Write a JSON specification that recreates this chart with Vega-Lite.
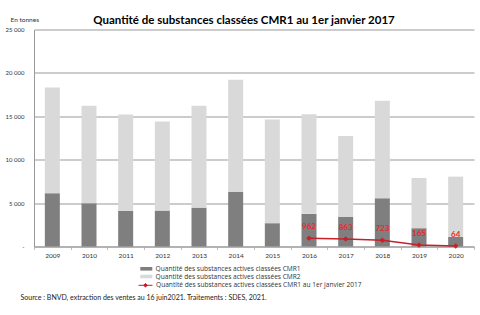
{
  "$schema": "https://vega.github.io/schema/vega-lite/v6.json",
  "width": 440,
  "height": 217,
  "autosize": "none",
  "padding": {"left": 34, "top": 29.5, "right": 6, "bottom": 68.5},
  "background": "white",
  "config": {"view": {"stroke": null}, "font": "Lato"},
  "title": {
    "text": "Quantité de substances classées CMR1 au 1er janvier 2017",
    "fontSize": 11.5,
    "fontWeight": "bold",
    "color": "#000000",
    "anchor": "middle",
    "dx": -10,
    "dy": 14,
    "offset": 4
  },
  "datasets": {
    "barres": [
      {"annee": "2009", "serie": "Quantité des substances actives classées CMR1", "valeur": 6140},
      {"annee": "2009", "serie": "Quantité des substances actives classées CMR2", "valeur": 12180},
      {"annee": "2010", "serie": "Quantité des substances actives classées CMR1", "valeur": 4990},
      {"annee": "2010", "serie": "Quantité des substances actives classées CMR2", "valeur": 11220},
      {"annee": "2011", "serie": "Quantité des substances actives classées CMR1", "valeur": 4100},
      {"annee": "2011", "serie": "Quantité des substances actives classées CMR2", "valeur": 11120},
      {"annee": "2012", "serie": "Quantité des substances actives classées CMR1", "valeur": 4140},
      {"annee": "2012", "serie": "Quantité des substances actives classées CMR2", "valeur": 10270},
      {"annee": "2013", "serie": "Quantité des substances actives classées CMR1", "valeur": 4480},
      {"annee": "2013", "serie": "Quantité des substances actives classées CMR2", "valeur": 11730},
      {"annee": "2014", "serie": "Quantité des substances actives classées CMR1", "valeur": 6320},
      {"annee": "2014", "serie": "Quantité des substances actives classées CMR2", "valeur": 12880},
      {"annee": "2015", "serie": "Quantité des substances actives classées CMR1", "valeur": 2690},
      {"annee": "2015", "serie": "Quantité des substances actives classées CMR2", "valeur": 11950},
      {"annee": "2016", "serie": "Quantité des substances actives classées CMR1", "valeur": 3760},
      {"annee": "2016", "serie": "Quantité des substances actives classées CMR2", "valeur": 11490},
      {"annee": "2017", "serie": "Quantité des substances actives classées CMR1", "valeur": 3410},
      {"annee": "2017", "serie": "Quantité des substances actives classées CMR2", "valeur": 9310},
      {"annee": "2018", "serie": "Quantité des substances actives classées CMR1", "valeur": 5560},
      {"annee": "2018", "serie": "Quantité des substances actives classées CMR2", "valeur": 11220},
      {"annee": "2019", "serie": "Quantité des substances actives classées CMR1", "valeur": 2110},
      {"annee": "2019", "serie": "Quantité des substances actives classées CMR2", "valeur": 5790},
      {"annee": "2020", "serie": "Quantité des substances actives classées CMR1", "valeur": 1110},
      {"annee": "2020", "serie": "Quantité des substances actives classées CMR2", "valeur": 6940}
    ],
    "ligne": [
      {"annee": "2016", "serie": "Quantité des substances actives classées CMR1 au 1er janvier 2017", "valeur": 962},
      {"annee": "2017", "serie": "Quantité des substances actives classées CMR1 au 1er janvier 2017", "valeur": 863},
      {"annee": "2018", "serie": "Quantité des substances actives classées CMR1 au 1er janvier 2017", "valeur": 723},
      {"annee": "2019", "serie": "Quantité des substances actives classées CMR1 au 1er janvier 2017", "valeur": 165},
      {"annee": "2020", "serie": "Quantité des substances actives classées CMR1 au 1er janvier 2017", "valeur": 64}
    ]
  },
  "encoding": {
    "x": {
      "field": "annee",
      "type": "ordinal",
      "scale": {"paddingInner": 0, "paddingOuter": 0},
      "axis": {
        "title": "Source : BNVD, extraction des ventes au 16 juin2021. Traitements : SDES, 2021.",
        "titleX": -14,
        "titleY": 51,
        "titleAlign": "left",
        "titleBaseline": "middle",
        "titleFontSize": 7,
        "titleFontWeight": "normal",
        "titleColor": "#222222",
        "labelAngle": 0,
        "labelFontSize": 6.5,
        "labelColor": "#333333",
        "labelPadding": 3,
        "domainColor": "#999999",
        "ticks": true,
        "tickBand": "extent",
        "tickColor": "#bbbbbb",
        "tickSize": 3,
        "grid": false
      }
    },
    "y": {
      "field": "valeur",
      "type": "quantitative",
      "scale": {"domain": [0, 25000]},
      "axis": {
        "values": [0, 5000, 10000, 15000, 20000, 25000],
        "labelExpr": "datum.value == 0 ? '-  ' : replace(format(datum.value, ','), ',', ' ')",
        "grid": true,
        "gridColor": "#999999",
        "domainColor": "#999999",
        "ticks": false,
        "labelPadding": 10,
        "labelFontSize": 6,
        "labelColor": "#333333",
        "title": "En tonnes",
        "titleX": -24,
        "titleY": -10,
        "titleAngle": 0,
        "titleAlign": "left",
        "titleBaseline": "middle",
        "titleFontSize": 6.5,
        "titleFontWeight": "normal",
        "titleColor": "#333333"
      }
    }
  },
  "layer": [
    {
      "data": {"name": "barres"},
      "mark": {"type": "bar", "size": 15},
      "encoding": {
        "y": {"field": "valeur", "type": "quantitative", "stack": "zero"},
        "fill": {
          "field": "serie",
          "type": "nominal",
          "scale": {
            "domain": ["Quantité des substances actives classées CMR1", "Quantité des substances actives classées CMR2"],
            "range": ["#7f7f7f", "#d9d9d9"]
          },
          "legend": {
            "orient": "none",
            "legendX": 109,
            "legendY": 236,
            "title": null,
            "symbolType": "M-2,-0.6H2V0.6H-2Z",
            "symbolSize": 36,
            "symbolStrokeWidth": 0,
            "labelFont": "Open Sans",
            "labelFontSize": 6.6,
            "labelLimit": 400,
            "labelColor": "#333333",
            "labelOffset": 6,
            "rowPadding": 0.7
          }
        },
        "order": {"field": "serie", "sort": "ascending"}
      }
    },
    {
      "data": {"name": "ligne"},
      "mark": {"type": "line", "strokeWidth": 1.5},
      "encoding": {
        "stroke": {
          "field": "serie",
          "type": "nominal",
          "scale": {"range": ["#c8202a"]},
          "legend": {
            "orient": "none",
            "legendX": 108,
            "legendY": 252.3,
            "title": null,
            "symbolType": "M-2.33,0H2.33M0,-0.6L0.6,0L0,0.6L-0.6,0Z",
            "symbolSize": 36,
            "symbolFillColor": "#8a1c2c",
            "symbolStrokeColor": "#8a1c2c",
            "symbolStrokeWidth": 1,
            "labelFont": "Open Sans",
            "labelFontSize": 6.6,
            "labelLimit": 400,
            "labelColor": "#333333",
            "labelOffset": 7
          }
        }
      }
    },
    {
      "data": {"name": "ligne"},
      "mark": {"type": "point", "shape": "diamond", "filled": true, "size": 30, "color": "#c8202a", "opacity": 1}
    },
    {
      "data": {"name": "ligne"},
      "mark": {"type": "text", "dy": -11, "color": "#e8282e", "fontWeight": "bold", "fontSize": 8},
      "encoding": {"text": {"field": "valeur", "type": "quantitative"}}
    }
  ]
}
